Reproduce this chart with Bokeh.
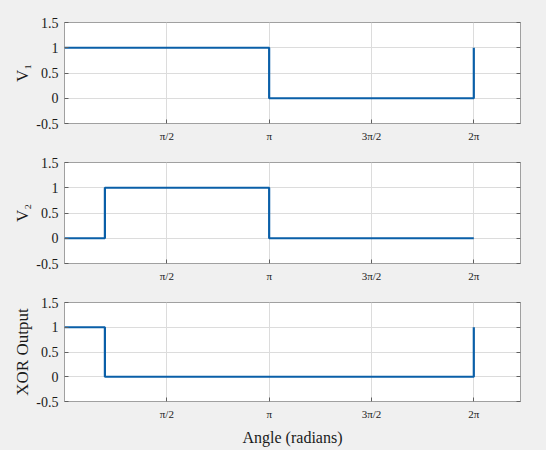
import math
from bokeh.plotting import figure
from bokeh.layouts import column
from bokeh.models import FixedTicker, LinearAxis
from bokeh.embed import file_html
from bokeh.resources import INLINE

PI = math.pi
# Data
angle_v1 = [0, PI, PI, 2 * PI, 2 * PI]
v1 = [1, 1, 0, 0, 1]
angle_v2 = [0, 0.62, 0.62, PI, PI, 2 * PI]
v2 = [0, 0, 1, 1, 0, 0]
angle_xor = [0, 0.62, 0.62, 2 * PI, 2 * PI]
xor_out = [1, 1, 0, 0, 1]

x_ticks = [PI / 2, PI, 3 * PI / 2, 2 * PI]
x_tick_labels = ["π/2", "π", "3π/2", "2π"]
y_ticks = [-0.5, 0, 0.5, 1, 1.5]
y_tick_labels = ["-0.5", "0", "0.5", "1", "1.5"]

FONT = "Liberation Serif"
BG = "#f0f0f0"
LINE = "#0a5fa8"


def make_fig(xs, ys, ylabel, height, top, bottom, xlabel=None):
    p = figure(width=538, height=height, x_range=(0, 7), y_range=(-0.5, 1.5),
               output_backend="svg", toolbar_location=None,
               min_border_left=64, min_border_right=18, min_border_top=top,
               min_border_bottom=bottom)
    p.background_fill_color = "white"
    p.border_fill_color = BG
    p.outline_line_color = "#a0a0a0"
    p.outline_line_width = 1
    p.line(xs, ys, line_color=LINE, line_width=2.2)

    p.xaxis.ticker = FixedTicker(ticks=x_ticks)
    p.xaxis.major_label_overrides = {t: l for t, l in zip(x_ticks, x_tick_labels)}
    p.yaxis.ticker = FixedTicker(ticks=y_ticks)
    p.yaxis.major_label_overrides = {t: l for t, l in zip(y_ticks, y_tick_labels)}
    for ax in (p.xaxis[0], p.yaxis[0]):
        ax.axis_line_color = None
        ax.major_tick_in = 4
        ax.major_tick_out = 0
        ax.major_tick_line_color = "#606060"
        ax.minor_tick_line_color = None
        ax.major_label_text_font = FONT
        ax.major_label_text_font_size = "14px"
        ax.major_label_text_color = "#1a1a1a"
        ax.axis_label_text_font = FONT
        ax.axis_label_text_font_style = "normal"
        ax.axis_label_text_color = "#1a1a1a"
    p.xaxis.major_label_standoff = 6
    p.xaxis.major_label_text_font_size = "11px"
    p.yaxis.major_label_standoff = 6
    p.yaxis.axis_label = ylabel
    p.yaxis.axis_label_text_font_size = "17px"
    p.yaxis.axis_label_standoff = 1
    if xlabel:
        p.xaxis.axis_label = xlabel
        p.xaxis.axis_label_text_font_size = "16px"
        p.xaxis.axis_label_standoff = 6

    right = LinearAxis(ticker=FixedTicker(ticks=y_ticks), axis_line_color=None,
                       major_tick_in=4, major_tick_out=0,
                       major_tick_line_color="#606060",
                       minor_tick_line_color=None,
                       major_label_overrides={t: "" for t in y_ticks},
                       major_label_standoff=0)
    p.add_layout(right, "right")

    p.xgrid.grid_line_color = "#dcdcdc"
    p.ygrid.grid_line_color = "#dcdcdc"
    p.xgrid.grid_line_width = 1
    p.ygrid.grid_line_width = 1
    return p


p1 = make_fig(angle_v1, v1, "V₁", 148, 22, 25)
p2 = make_fig(angle_v2, v2, "V₂", 140, 14, 25)
p3 = make_fig(angle_xor, xor_out, "XOR Output", 160, 14, 45, xlabel="Angle (radians)")

layout = column(p1, p2, p3, spacing=0, background=BG)
html = file_html(layout, INLINE)
html = html.replace("<body>", '<body style="background:#f0f0f0">')
open("out.html", "w").write(html)
